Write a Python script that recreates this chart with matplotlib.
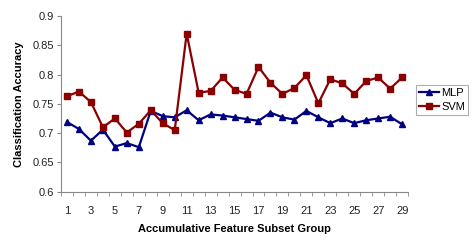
import matplotlib
matplotlib.use("Agg")
import matplotlib.pyplot as plt

groups = list(range(1, 30))
mlp = [0.719, 0.707, 0.687, 0.706, 0.677, 0.683, 0.676, 0.738, 0.729, 0.727,
       0.739, 0.722, 0.732, 0.730, 0.727, 0.724, 0.721, 0.735, 0.727, 0.723,
       0.738, 0.727, 0.717, 0.725, 0.717, 0.722, 0.725, 0.728, 0.715]
svm = [0.763, 0.771, 0.753, 0.710, 0.725, 0.701, 0.716, 0.739, 0.717, 0.705,
       0.870, 0.769, 0.772, 0.795, 0.774, 0.767, 0.813, 0.786, 0.767, 0.777,
       0.799, 0.751, 0.792, 0.785, 0.767, 0.789, 0.795, 0.776, 0.795]
xtick_labels = [str(g) for g in groups[::2]]
yticks = [0.6, 0.65, 0.7, 0.75, 0.8, 0.85, 0.9]
ytick_labels = ["0.6", "0.65", "0.7", "0.75", "0.8", "0.85", "0.9"]

plt.rcParams['font.family'] = ['Liberation Sans', 'DejaVu Sans']

fig = plt.figure(figsize=(4.74, 2.45), dpi=100)
ax = fig.add_axes([0.1287, 0.2176, 0.861 - 0.1287, 0.9347 - 0.2176])

ax.plot(groups, mlp, color='#000080', marker='^', markersize=5, linewidth=1.6,
        label='MLP')
ax.plot(groups, svm, color='#8B0000', marker='s', markersize=5, linewidth=1.6,
        label='SVM')

ax.set_xlim(0.5, 29.5)
ax.set_ylim(0.6, 0.9)
ax.set_yticks(yticks)
ax.set_yticklabels(ytick_labels)
ax.set_xticks(groups[::2])
ax.set_xticklabels(xtick_labels)
ax.set_xticks([g + 0.5 for g in [0] + groups], minor=True)
ax.tick_params(axis='x', which='major', length=0, pad=10, labelsize=8, colors='#222222')
ax.tick_params(axis='x', which='minor', length=3, color='#888888', direction='out')
ax.tick_params(axis='y', length=3, color='#888888', labelsize=8, labelcolor='#222222', pad=2)

for s in ['top', 'right']:
    ax.spines[s].set_visible(False)
for s in ['left', 'bottom']:
    ax.spines[s].set_color('#888888')
    ax.spines[s].set_linewidth(0.8)

ax.set_xlabel('Accumulative Feature Subset Group', fontsize=8, fontweight='bold', labelpad=6)
ax.set_ylabel('Classification Accuracy', fontsize=8, fontweight='bold', labelpad=6)

leg = fig.legend(loc='upper left', bbox_to_anchor=(415.5 / 474, 1 - 85 / 245),
                 fontsize=8, frameon=True, fancybox=False, edgecolor='#999999',
                 handlelength=1.8, borderpad=0.3, labelspacing=0.3,
                 handletextpad=0.2, borderaxespad=0)
leg.get_frame().set_linewidth(0.8)

fig.savefig('out.png', dpi=100)
